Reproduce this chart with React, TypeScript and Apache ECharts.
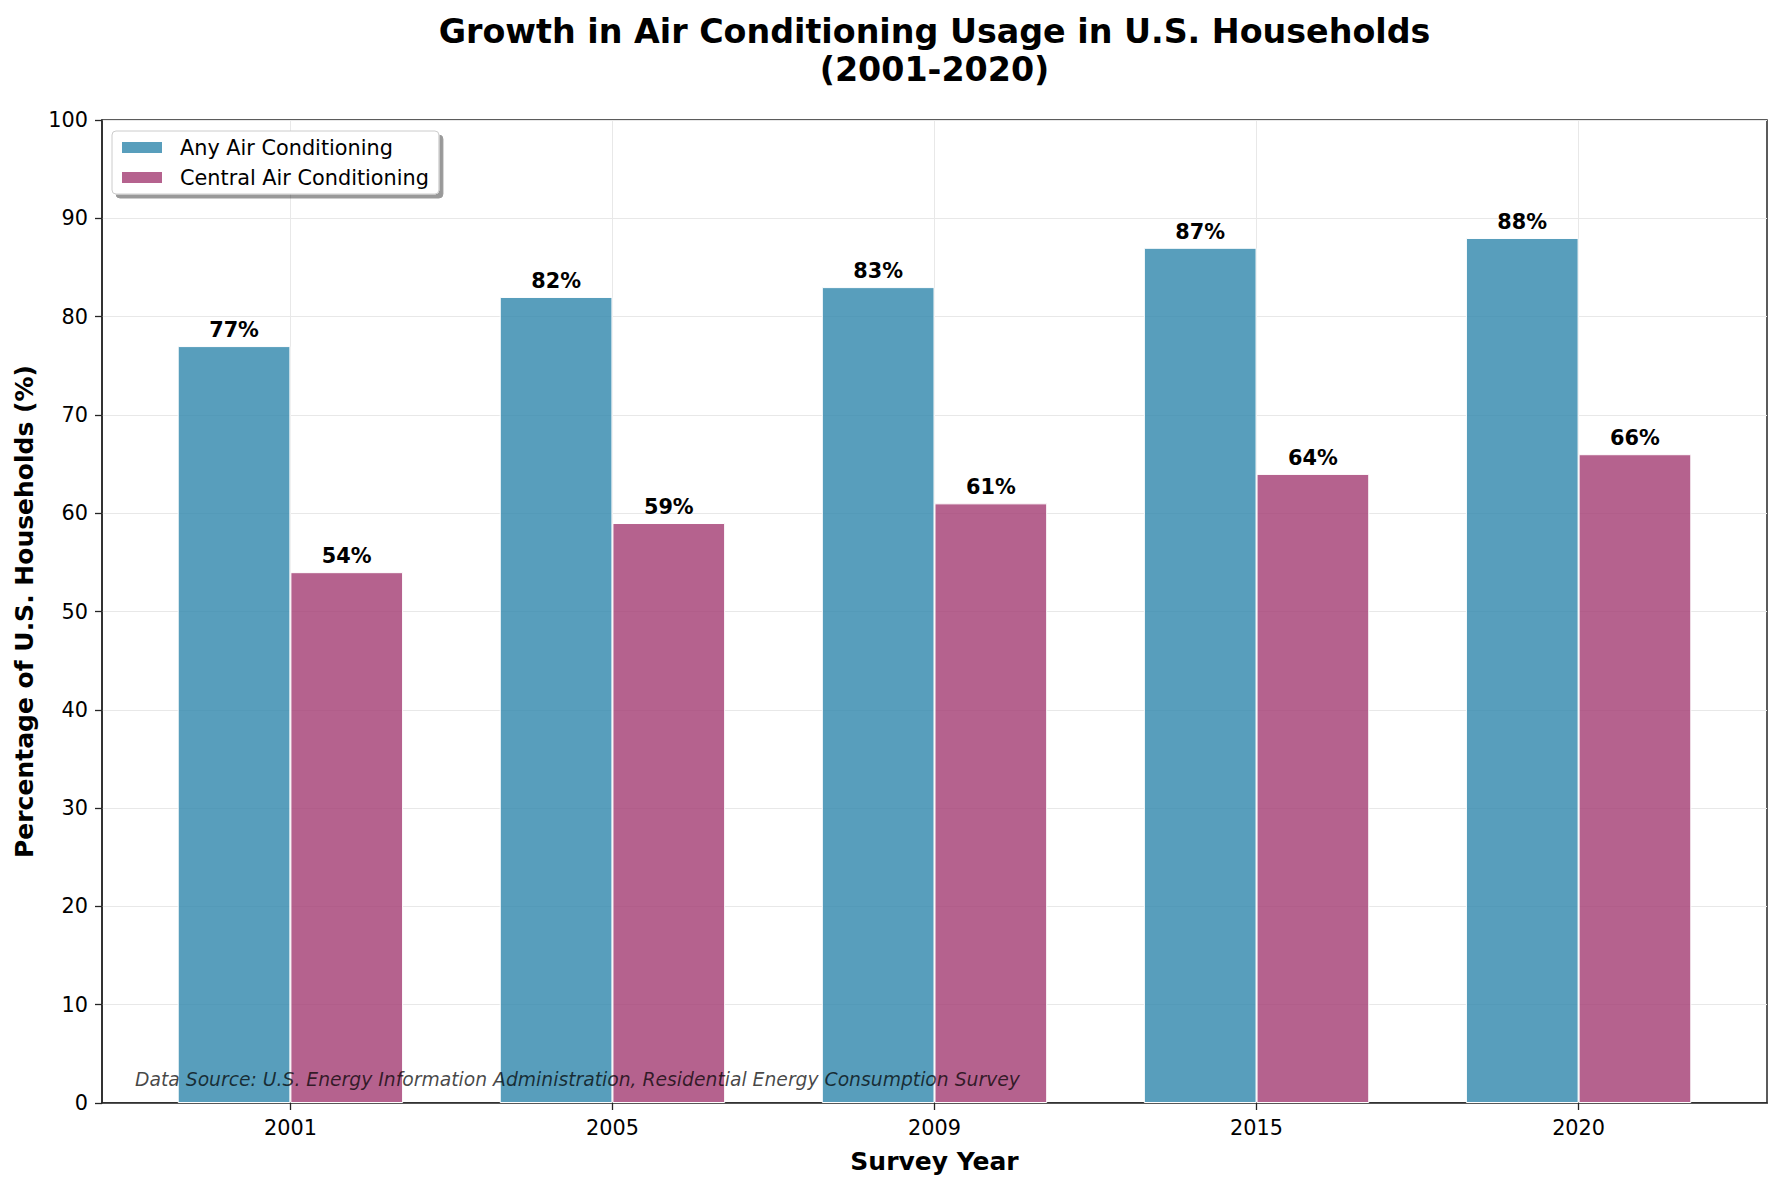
import React, { useEffect, useRef } from "react";
import * as echarts from "echarts";

const years = ["2001", "2005", "2009", "2015", "2020"];
const anyAC = [77, 82, 83, 87, 88];
const centralAC = [54, 59, 61, 64, 66];
const yTicks = [0, 10, 20, 30, 40, 50, 60, 70, 80, 90, 100];

const FONT = "DejaVu Sans";

export default function App() {
  const ref = useRef<HTMLDivElement>(null);
  useEffect(() => {
    document.body.style.margin = "0";
    const chart = echarts.init(ref.current!, null, { renderer: "svg" });
    const idx = years.map((_, i) => i);
    const barLabel = {
      show: true,
      position: "top",
      distance: 5.5,
      formatter: (p: any) => `${p.value[1]}%`,
      color: "#000",
      fontFamily: FONT,
      fontWeight: "bold",
      fontSize: 20.8,
    };
    chart.setOption({
      animation: false,
      backgroundColor: "#fff",
      textStyle: { fontFamily: FONT },
      title: {
        text: "Growth in Air Conditioning Usage in U.S. Households\n(2001-2020)",
        left: 934.5,
        top: 12,
        textAlign: "center",
        padding: 0,
        textStyle: {
          fontFamily: FONT,
          fontWeight: "bold",
          fontSize: 33.3,
          lineHeight: 38.5,
          color: "#000",
        },
      },
      grid: {
        left: 102,
        top: 120,
        right: 15,
        bottom: 83,
        show: true,
        borderColor: "#262626",
        borderWidth: 1.5,
        backgroundColor: "transparent",
      },
      legend: {
        orient: "vertical",
        left: 112,
        top: 131,
        itemWidth: 42,
        itemHeight: 13,
        itemGap: 9,
        padding: [6, 10, 6, 8],
        backgroundColor: "#fff",
        borderColor: "#cccccc",
        borderWidth: 1,
        borderRadius: 4,
        shadowColor: "rgba(0,0,0,0.4)",
        shadowOffsetX: 4,
        shadowOffsetY: 4,
        shadowBlur: 0,
        icon: "rect",
        textStyle: {
          fontFamily: FONT,
          fontSize: 20.8,
          color: "#000",
          padding: [0, 0, 0, 12],
        },
        data: ["Any Air Conditioning", "Central Air Conditioning"],
      },
      xAxis: {
        type: "value",
        min: -0.585,
        max: 4.585,
        name: "Survey Year",
        nameLocation: "middle",
        nameGap: 46,
        nameTextStyle: { fontFamily: FONT, fontWeight: "bold", fontSize: 25, color: "#000" },
        axisLine: { show: true, onZero: false, lineStyle: { color: "#262626", width: 1.5 } },
        axisTick: { show: true, customValues: idx, length: 7, lineStyle: { color: "#262626", width: 1.3 } },
        axisLabel: {
          customValues: idx,
          formatter: (v: number) => years[Math.round(v)] ?? "",
          margin: 14,
          fontFamily: FONT,
          fontSize: 20.8,
          color: "#000",
        },
        splitLine: { show: true, lineStyle: { color: "#e8e8e8", width: 1 } },
      },
      yAxis: {
        type: "value",
        min: 0,
        max: 100,
        interval: 10,
        name: "Percentage of U.S. Households (%)",
        nameLocation: "middle",
        nameGap: 63,
        nameTextStyle: { fontFamily: FONT, fontWeight: "bold", fontSize: 25, color: "#000" },
        axisLine: { show: true, onZero: false, lineStyle: { color: "#262626", width: 1.5 } },
        axisTick: { show: true, length: 7, lineStyle: { color: "#262626", width: 1.3 } },
        axisLabel: {
          margin: 14,
          fontFamily: FONT,
          fontSize: 20.8,
          color: "#000",
          customValues: yTicks,
        },
        splitLine: { show: true, lineStyle: { color: "#e8e8e8", width: 1 } },
      },
      series: [
        {
          name: "Any Air Conditioning",
          type: "bar",
          data: anyAC.map((v, i) => [i, v]),
          barWidth: 112.7,
          barGap: "0%",
          itemStyle: { color: "rgba(46,134,171,0.8)", borderColor: "#fff", borderWidth: 1 },
          label: barLabel,
        },
        {
          name: "Central Air Conditioning",
          type: "bar",
          data: centralAC.map((v, i) => [i, v]),
          barWidth: 112.7,
          barGap: "0%",
          itemStyle: { color: "rgba(162,59,114,0.8)", borderColor: "#fff", borderWidth: 1 },
          label: barLabel,
        },
      ],
      graphic: [
        {
          type: "text",
          z: 100,
          style: {
            text: "Data Source: U.S. Energy Information Administration, Residential Energy Consumption Survey",
            x: 135,
            y: 1089,
            verticalAlign: "bottom",
            fontFamily: FONT,
            fontStyle: "italic",
            fontSize: 18.75,
            fill: "rgba(0,0,0,0.72)",
          },
        },
      ],
    });
    return () => chart.dispose();
  }, []);
  return <div ref={ref} style={{ width: 1782, height: 1186 }} />;
}
